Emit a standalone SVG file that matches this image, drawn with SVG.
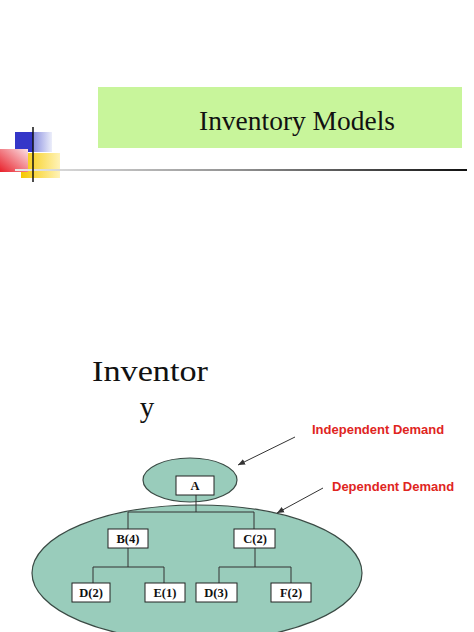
<svg xmlns="http://www.w3.org/2000/svg" width="474" height="632" viewBox="0 0 474 632">
<defs>
<linearGradient id="gBlue" x1="0" y1="0" x2="1" y2="0"><stop offset="0" stop-color="#8a8fe0"/><stop offset="1" stop-color="#eceefa"/></linearGradient>
<linearGradient id="gRed" x1="0" y1="1" x2="1" y2="0"><stop offset="0" stop-color="#e8202a"/><stop offset="1" stop-color="#fbe0e4"/></linearGradient>
<linearGradient id="gYel" x1="0" y1="0" x2="1" y2="0"><stop offset="0" stop-color="#f5c800"/><stop offset="1" stop-color="#fff3b8"/></linearGradient>
<linearGradient id="gLine" x1="0" y1="0" x2="1" y2="0"><stop offset="0" stop-color="#e8e8e8"/><stop offset="0.5" stop-color="#909090"/><stop offset="1" stop-color="#111"/></linearGradient>
<marker id="ah" markerWidth="8" markerHeight="8" refX="7" refY="4" orient="auto" markerUnits="userSpaceOnUse"><path d="M0,1 L7,4 L0,7 Z" fill="#333"/></marker>
</defs>
<style>
.box{fill:#fff;stroke:#222;stroke-width:1}
.bl{font-family:"Liberation Serif",serif;font-weight:bold;font-size:12.5px;text-anchor:middle;fill:#111}
.conn{stroke:#333;stroke-width:1;fill:none}
.lbl{font-family:"Liberation Sans",Arial,sans-serif;font-weight:bold;font-size:13px;fill:#e0251e}
.ell{fill:#99ccbb;stroke:#3a4a44;stroke-width:1.2}
.hd{font-family:"Liberation Serif",serif;font-size:29px;fill:#111}
</style>
<rect width="474" height="632" fill="#fff"/>
<g id="logo">
<rect x="33" y="132" width="19" height="20" fill="url(#gBlue)"/>
<rect x="15" y="132" width="18" height="20" fill="#3436c8"/>
<rect x="21" y="153" width="39" height="25" fill="url(#gYel)"/>
<rect x="0" y="149" width="28" height="23" fill="url(#gRed)"/>
<rect x="15" y="169" width="452" height="2" fill="url(#gLine)"/>
<line x1="33" y1="127" x2="33" y2="182" stroke="#111" stroke-width="1.5"/>
</g>
<g id="title">
<rect x="98" y="87" width="364" height="61" fill="#c8f59b"/>
<text x="297" y="130" font-family="Liberation Serif,serif" font-size="27" text-anchor="middle" fill="#111" textLength="196" lengthAdjust="spacingAndGlyphs">Inventory Models</text>
</g>
<g id="heading">
<text class="hd" x="92" y="381" textLength="116" lengthAdjust="spacingAndGlyphs">Inventor</text>
<text class="hd" x="147" y="417" text-anchor="middle">y</text>
</g>
<g id="dependent-ellipse"><ellipse class="ell" cx="197" cy="573" rx="165" ry="68"/></g>
<g id="independent-ellipse"><ellipse class="ell" cx="190" cy="480" rx="47" ry="22"/></g>
<g id="connectors">
<path class="conn" d="M196,495 V512 M128,512 H254 M128,512 V529 M254,512 V529"/>
<path class="conn" d="M128,548 V567 M93,567 H164 M93,567 V583 M164,567 V583"/>
<path class="conn" d="M255,548 V567 M219,567 H291 M219,567 V583 M291,567 V583"/>
<line class="conn" x1="295" y1="437" x2="238" y2="465" marker-end="url(#ah)"/>
<line class="conn" x1="323" y1="488" x2="277" y2="513" marker-end="url(#ah)"/>
</g>
<g id="node-A"><rect class="box" x="176" y="476" width="38" height="19"/><text class="bl" x="195" y="490">A</text></g>
<g id="node-B4"><rect class="box" x="108" y="529" width="40" height="19"/><text class="bl" x="128" y="543">B(4)</text></g>
<g id="node-C2"><rect class="box" x="234" y="529" width="41" height="19"/><text class="bl" x="255" y="543">C(2)</text></g>
<g id="node-D2"><rect class="box" x="72" y="583" width="38" height="19"/><text class="bl" x="91" y="597">D(2)</text></g>
<g id="node-E1"><rect class="box" x="145" y="583" width="40" height="19"/><text class="bl" x="165" y="597">E(1)</text></g>
<g id="node-D3"><rect class="box" x="196" y="583" width="41" height="19"/><text class="bl" x="216" y="597">D(3)</text></g>
<g id="node-F2"><rect class="box" x="271" y="583" width="40" height="19"/><text class="bl" x="291" y="597">F(2)</text></g>
<g id="labels">
<text class="lbl" x="312" y="434">Independent Demand</text>
<text class="lbl" x="332" y="491">Dependent Demand</text>
</g>
</svg>
